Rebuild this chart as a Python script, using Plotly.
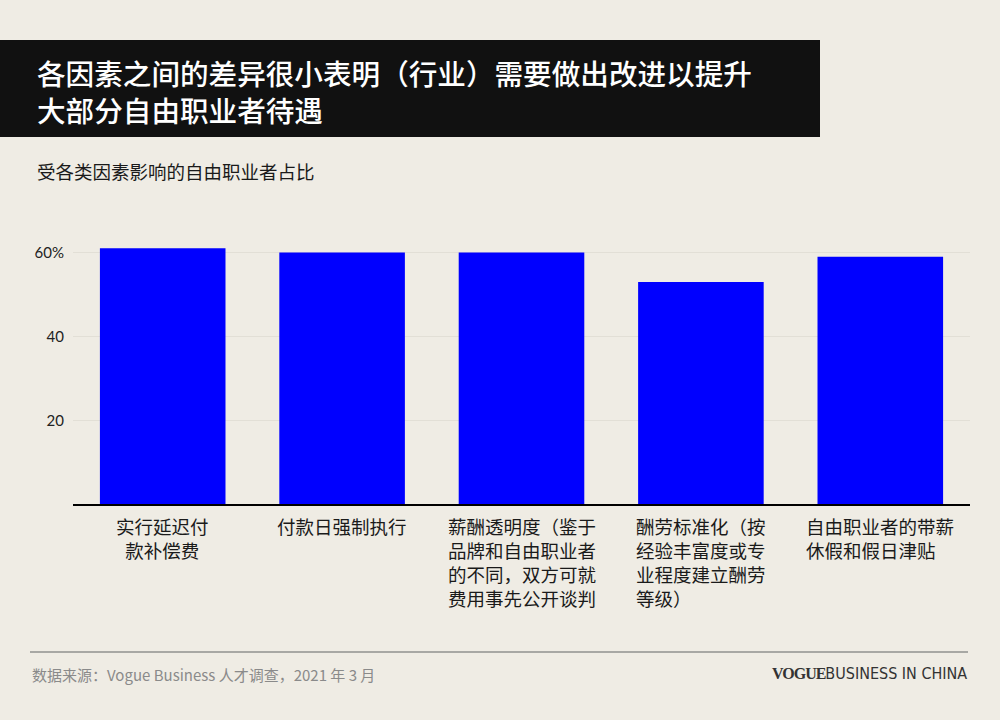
import plotly.graph_objects as go

# ---- data ----
categories = ["实行延迟付款补偿费", "付款日强制执行", "薪酬透明度", "酬劳标准化", "带薪休假"]
tick_labels = [
    "实行延迟付<br>款补偿费",
    "付款日强制执行",
    "薪酬透明度（鉴于<br>品牌和自由职业者<br>的不同，双方可就<br>费用事先公开谈判",
    "酬劳标准化（按<br>经验丰富度或专<br>业程度建立酬劳<br>等级）",
    "自由职业者的带薪<br>休假和假日津贴",
]
label_align = ["center", "left", "left", "left", "left"]
values = [61, 60, 60, 53, 59]
y_tickvals = [20, 40, 60]
y_ticktext = ["20", "40", "60%"]

title_lines = ["各因素之间的差异很小表明（行业）需要做出改进以提升", "大部分自由职业者待遇"]
subtitle = "受各类因素影响的自由职业者占比"
source = "数据来源：Vogue Business 人才调查，2021 年 3 月"

W, H = 1000, 720
L, R, T, B = 73, 30, 244, 215
BG = "#EFECE4"
CJK = "Noto Sans CJK SC"


def px2x(px):
    return (px - L) / (W - L - R)


def px2y(py):
    return (H - B - py) / (H - T - B)


fig = go.Figure()
fig.add_trace(go.Bar(
    x=categories, y=values,
    marker=dict(color="#0000FF", line=dict(width=0)),
    hoverinfo="skip",
))

annotations = []
for cat, lab, al in zip(categories, tick_labels, label_align):
    annotations.append(dict(
        x=cat, y=0, xref="x", yref="y", text=lab, showarrow=False,
        xanchor="center", yanchor="top", align=al, yshift=-6,
        font=dict(family=CJK, size=18.5, color="#1a1a1a"),
    ))

# title
for i, line in enumerate(title_lines):
    annotations.append(dict(
        x=px2x(35), y=px2y(72 + i * 37), xref="paper", yref="paper",
        text=line, showarrow=False, xanchor="left", yanchor="middle",
        font=dict(family=CJK, size=28.6, color="white", weight=500),
    ))
annotations.append(dict(
    x=px2x(35), y=px2y(171), xref="paper", yref="paper", text=subtitle,
    showarrow=False, xanchor="left", yanchor="middle",
    font=dict(family=CJK, size=18.5, color="#1a1a1a"),
))
annotations.append(dict(
    x=px2x(30), y=px2y(674), xref="paper", yref="paper", text=source,
    showarrow=False, xanchor="left", yanchor="middle",
    font=dict(family=CJK, size=15, color="#8a8a8a"),
))
annotations.append(dict(
    x=px2x(969), y=px2y(673), xref="paper", yref="paper",
    text="<span style='font-family:Liberation Serif;font-weight:bold;letter-spacing:-1px'>VOGUE</span>"
         "<span style='font-family:DejaVu Sans Condensed;font-weight:200'>BUSINESS IN CHINA</span>",
    showarrow=False, xanchor="right", yanchor="middle",
    font=dict(family="DejaVu Sans Condensed", size=16, color="#333"),
))

shapes = [
    dict(type="rect", xref="paper", yref="paper",
         x0=px2x(0), x1=px2x(820), y0=px2y(40), y1=px2y(137),
         fillcolor="#111111", line=dict(width=0), layer="below"),
    dict(type="line", xref="paper", yref="paper",
         x0=px2x(30), x1=px2x(968), y0=px2y(652), y1=px2y(652),
         line=dict(color="#A8A8A4", width=2)),
    dict(type="line", xref="paper", yref="paper",
         x0=0, x1=1, y0=0, y1=0, line=dict(color="#000", width=2)),
]

fig.update_layout(
    width=W, height=H,
    margin=dict(l=L, r=R, t=T, b=B),
    paper_bgcolor=BG, plot_bgcolor=BG,
    showlegend=False, bargap=0.3,
    annotations=annotations, shapes=shapes,
    xaxis=dict(showticklabels=False, showgrid=False, zeroline=False,
               showline=False, ticks=""),
    yaxis=dict(range=[0, 62], tickvals=y_tickvals, ticktext=y_ticktext,
               showgrid=True, gridcolor="#E2DFD6", gridwidth=1,
               zeroline=False, showline=False, ticks="",
               ticklabelstandoff=8,
               tickfont=dict(family="Lato", size=15, color="#222")),
)

fig.write_html("out.html")
